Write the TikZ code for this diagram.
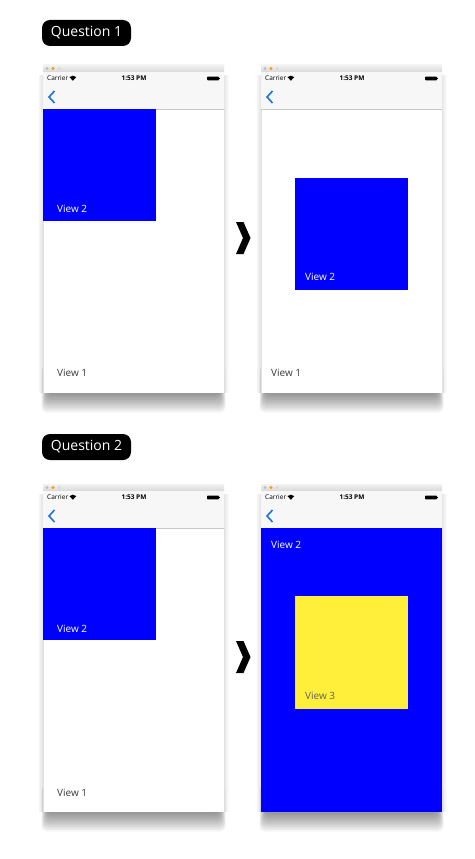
\documentclass[tikz,border=0pt]{standalone}
\usepackage{fontspec}
\setmainfont{Open Sans}
\usepackage{tikz}
\usetikzlibrary{calc}
\definecolor{viewblue}{HTML}{0000FF}
\definecolor{viewyellow}{HTML}{FFEE3A}
\definecolor{navgrey}{HTML}{F7F7F7}
\definecolor{lineg}{HTML}{C8C8C8}
\definecolor{backblue}{HTML}{1E72DA}
\definecolor{labelgrey}{HTML}{3A3A3A}
\begin{document}
\begin{tikzpicture}[line cap=round,line join=round,x={(1pt,0)},y={(0,-1pt)},
    qlabel/.style={fill=black,text=white,rounded corners=8pt,minimum width=89pt,minimum height=26pt,inner sep=0pt,font=\fontsize{14}{16}\selectfont},
    viewtext/.style={anchor=base west,inner sep=0pt,font=\fontsize{10}{12}\selectfont},
    bartext/.style={inner sep=0pt,font=\fontsize{6.5}{7}\selectfont},
    chevron/.style={fill=black}]
    \useasboundingbox[fill=white] (0,0) rectangle (474,859);
    % phone frames
    \foreach \fx/\fy/\n in {43/65/a,261/65/b,43/484/c,261/484/d} {
        \foreach \i in {1,...,5}
            \fill[black,opacity=0.02] (\fx-\i*0.9,\fy+10) rectangle (\fx+181+\i*0.9,\fy+328);
        \foreach \i in {0,...,11}
            \fill[black,opacity=0.04,rounded corners=5pt] (\fx+4-\i*0.5,\fy+300) rectangle (\fx+177+\i*0.5,\fy+330+\i*1.6);
        \fill[white] (\fx,\fy) rectangle (\fx+181,\fy+328);
        \draw[black!12,line width=0.5pt] (\fx,\fy+44) -- (\fx,\fy+328) (\fx+181,\fy+44) -- (\fx+181,\fy+328);
        \shade[top color=black!5,bottom color=black!15] (\fx,\fy) rectangle (\fx+181,\fy+7);
        \fill[black!25] (\fx+4,\fy+3.5) circle (1.6pt);
        \fill[orange!80!yellow] (\fx+10,\fy+3.5) circle (1.6pt);
        \fill[black!15] (\fx+16,\fy+3.5) circle (1.6pt);
        \fill[navgrey] (\fx,\fy+7) rectangle (\fx+181,\fy+44);
        \draw[lineg,line width=0.6pt] (\fx,\fy+44) -- (\fx+181,\fy+44);
        \node[bartext,anchor=west] (carrier\n) at (\fx+4,\fy+13.5) {Carrier};
        \fill[black] ($(carrier\n.east)+(4.5,2.2)$) -- +(-3.4,-3.6) arc[start angle=135,end angle=45,radius=4.8pt] -- cycle;
        \node[bartext,font=\bfseries\fontsize{6.5}{7}\selectfont] (time\n) at (\fx+91,\fy+13.5) {1:53 PM};
        \fill[black,rounded corners=0.8pt] (\fx+164,\fy+11.5) rectangle (\fx+176,\fy+15.3);
        \fill[black] (\fx+176.2,\fy+12.5) rectangle (\fx+177.2,\fy+14.3);
        \draw[backblue,line width=1.6pt,line cap=butt,line join=miter] (\fx+11.5,\fy+26) -- (\fx+6,\fy+32) -- (\fx+11.5,\fy+38);
    }
    % question 1
    \node[qlabel] (q1) at (86.5,33) {Question 1};
    \fill[viewblue] (43,109) rectangle (156,221);
    \node[viewtext,text=white] (q1view2a) at (57,212) {View 2};
    \node[viewtext,text=labelgrey] (q1view1a) at (57,376) {View 1};
    \fill[viewblue] (295,178) rectangle (408,290);
    \node[viewtext,text=white] (q1view2b) at (305,280) {View 2};
    \node[viewtext,text=labelgrey] (q1view1b) at (271,376) {View 1};
    \fill[chevron] (236,222) -- (243.5,222) -- (250.5,238) -- (243.5,254) -- (236,254) -- (243,238) -- cycle;
    % question 2
    \node[qlabel] (q2) at (86.5,447) {Question 2};
    \fill[viewblue] (43,528) rectangle (156,640);
    \node[viewtext,text=white] (q2view2a) at (57,632) {View 2};
    \node[viewtext,text=labelgrey] (q2view1a) at (57,796) {View 1};
    \fill[viewblue] (261,528) rectangle (442,812);
    \node[viewtext,text=white] (q2view2b) at (271,548) {View 2};
    \fill[viewyellow] (295,596) rectangle (408,709);
    \node[viewtext,text=labelgrey!80] (q2view3) at (305,699) {View 3};
    \fill[chevron] (236,641) -- (243.5,641) -- (250.5,657) -- (243.5,673) -- (236,673) -- (243,657) -- cycle;
\end{tikzpicture}
\end{document}
